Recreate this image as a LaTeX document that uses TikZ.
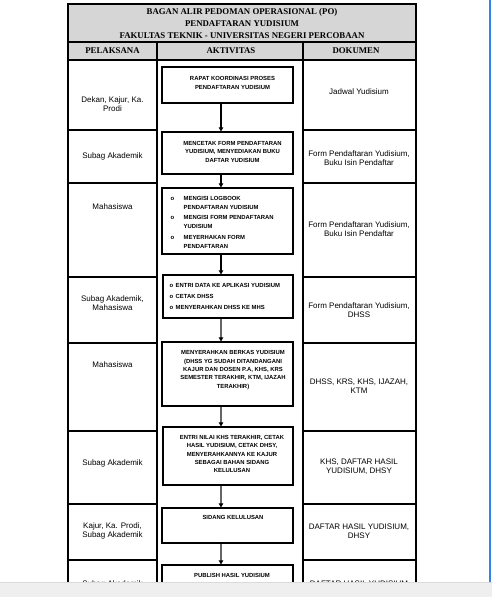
\documentclass[tikz,border=0pt]{standalone}
\usepackage{fontspec}
\setmainfont{Liberation Serif}
\setsansfont{Liberation Sans}
\usetikzlibrary{arrows.meta}
\definecolor{headgray}{HTML}{D6D6D6}
\definecolor{barback}{HTML}{EFEFEF}
\definecolor{barline}{HTML}{DADADA}
\definecolor{scrollblue}{HTML}{2F86E8}
\newcommand{\bulletat}[1]{\makebox[#1][l]{o}}
\newcommand{\hangat}[1]{\hspace*{#1}}
\tikzset{
  tabline/.style={line width=1.2pt},
  actbox/.style={draw,line width=1.2pt,inner sep=0pt},
  acttext/.style={font=\sffamily\bfseries\fontsize{5.9}{8.3}\selectfont,align=center,inner sep=0pt},
  roletext/.style={font=\sffamily\fontsize{8}{8.8}\selectfont,align=center,inner sep=0pt},
  headtext/.style={font=\bfseries\fontsize{8.8}{12}\selectfont,align=center,inner sep=0pt},
  flow/.style={-{Triangle[length=4pt,width=4.5pt,color=black]},line width=1.2pt}
}

\begin{document}
\begin{tikzpicture}[x=1pt,y=-1pt]
  \useasboundingbox (0,0) rectangle (492,597);
  \clip (0,0) rectangle (492,597);
  \fill[headgray] (68,4) rectangle (416,60);
  \draw[tabline] (68,597) -- (68,4) -- (416,4) -- (416,597);
  \draw[tabline] (68,42) -- (416,42);
  \draw[tabline] (68,60) -- (416,60);
  \draw[tabline] (157,42) -- (157,597);
  \draw[tabline] (303,42) -- (303,597);
  \foreach \y in {130,183,277,343,431,504,560} {
    \draw[tabline] (68,\y) -- (157,\y);
    \draw[tabline] (303,\y) -- (416,\y);
  }

  \node[headtext] (title) at (242,23.8) {BAGAN ALIR PEDOMAN OPERASIONAL (PO)\\PENDAFTARAN YUDISIUM\\FAKULTAS TEKNIK - UNIVERSITAS NEGERI PERCOBAAN};
  \node[headtext] (hpel) at (112.5,50.5) {PELAKSANA};
  \node[headtext] (hakt) at (231,50.5) {AKTIVITAS};
  \node[headtext] (hdok) at (356,50.5) {DOKUMEN};

  % pelaksana
  \node[roletext] (r1) at (112.5,104) {Dekan, Kajur, Ka.\\Prodi};
  \node[roletext] (r2) at (112.5,156) {Subag Akademik};
  \node[roletext] (r3) at (112.5,207) {Mahasiswa};
  \node[roletext] (r4) at (112.5,303.5) {Subag Akademik,\\Mahasiswa};
  \node[roletext] (r5) at (112.5,365) {Mahasiswa};
  \node[roletext] (r6) at (112.5,463) {Subag Akademik};
  \node[roletext] (r7) at (112.5,531) {Kajur, Ka. Prodi,\\Subag Akademik};
  \node[roletext] (r8) at (112.5,584) {Subag Akademik};

  % dokumen
  \node[roletext] (d1) at (359,92) {Jadwal Yudisium};
  \node[roletext] (d2) at (359,158) {Form Pendaftaran Yudisium,\\Buku Isin Pendaftar};
  \node[roletext] (d3) at (359,229.5) {Form Pendaftaran Yudisium,\\Buku Isin Pendaftar};
  \node[roletext] (d4) at (359,310) {Form Pendaftaran Yudisium,\\DHSS};
  \node[roletext] (d5) at (359,386.5) {DHSS, KRS, KHS, IJAZAH,\\KTM};
  \node[roletext] (d6) at (359,466.5) {KHS, DAFTAR HASIL\\YUDISIUM, DHSY};
  \node[roletext] (d7) at (359,531) {DAFTAR HASIL YUDISIUM,\\DHSY};
  \node[roletext] (d8) at (359,584) {DAFTAR HASIL YUDISIUM};

  % aktivitas
  \node[actbox,minimum width=131pt,minimum height=36pt] (b1) at (227.5,85) {};
  \node[actbox,minimum width=131pt,minimum height=42pt] (b2) at (227.5,153) {};
  \node[actbox,minimum width=131pt,minimum height=66pt] (b3) at (227.5,221) {};
  \node[actbox,minimum width=130pt,minimum height=43pt] (b4) at (228,296.5) {};
  \node[actbox,minimum width=131pt,minimum height=64pt] (b5) at (227.5,374) {};
  \node[actbox,minimum width=130pt,minimum height=58pt] (b6) at (228,456) {};
  \node[actbox,minimum width=131pt,minimum height=35pt] (b7) at (227.5,525.5) {};
  \node[actbox,minimum width=131pt,minimum height=40pt] (b8) at (227.5,585) {};

  \node[acttext] (t1) at (232.5,83) {RAPAT KOORDINASI PROSES\\PENDAFTARAN YUDISIUM};
  \node[acttext] (t2) at (232.5,151.7) {MENCETAK FORM PENDAFTARAN\\YUDISIUM, MENYEDIAKAN BUKU\\DAFTAR YUDISIUM};
  \node[acttext,align=left,anchor=west,font=\sffamily\bfseries\fontsize{5.9}{9}\selectfont] (t3) at (170.5,222)
    {\bulletat{13pt}MENGISI LOGBOOK\\\hangat{13pt}PENDAFTARAN YUDISIUM\\[1.5pt]\bulletat{13pt}MENGISI FORM PENDAFTARAN\\\hangat{13pt}YUDISIUM\\[1.5pt]\bulletat{13pt}MEYERHAKAN FORM\\\hangat{13pt}PENDAFTARAN};
  \node[acttext,align=left,anchor=west,font=\sffamily\bfseries\fontsize{5.9}{10.8}\selectfont] (t4) at (169.5,296.5)
    {\bulletat{6pt}ENTRI DATA KE APLIKASI YUDISIUM\\\bulletat{6pt}CETAK DHSS\\\bulletat{6pt}MENYERAHKAN DHSS KE MHS};
  \node[acttext] (t5) at (233,370) {MENYERAHKAN BERKAS YUDISIUM\\(DHSS YG SUDAH DITANDANGANI\\KAJUR DAN DOSEN P.A, KHS, KRS\\SEMESTER TERAKHIR, KTM, IJAZAH\\TERAKHIR)};
  \node[acttext] (t6) at (232,454.2) {ENTRI NILAI KHS TERAKHIR, CETAK\\HASIL YUDISIUM, CETAK DHSY,\\MENYERAHKANNYA KE KAJUR\\SEBAGAI BAHAN SIDANG\\KELULUSAN};
  \node[acttext] (t7) at (233,517) {SIDANG KELULUSAN};
  \node[acttext] (t8) at (232,575) {PUBLISH HASIL YUDISIUM};

  \coordinate (spine) at (221,0);
  \foreach \a/\b in {b1/b2,b2/b3,b3/b4}
    \draw[flow] (\a.south -| spine) -- (\b.north -| spine);
  \foreach \a/\b in {b4/b5,b5/b6,b6/b7,b7/b8}
    \draw[flow,draw=black!60] (\a.south -| spine) -- (\b.north -| spine);

  % window edge
  \fill[scrollblue] (489,0) rectangle (491.3,582);
  \fill[barback] (0,582) rectangle (492,597);
  \draw[barline,line width=1pt] (0,582) -- (492,582);
\end{tikzpicture}
\end{document}
